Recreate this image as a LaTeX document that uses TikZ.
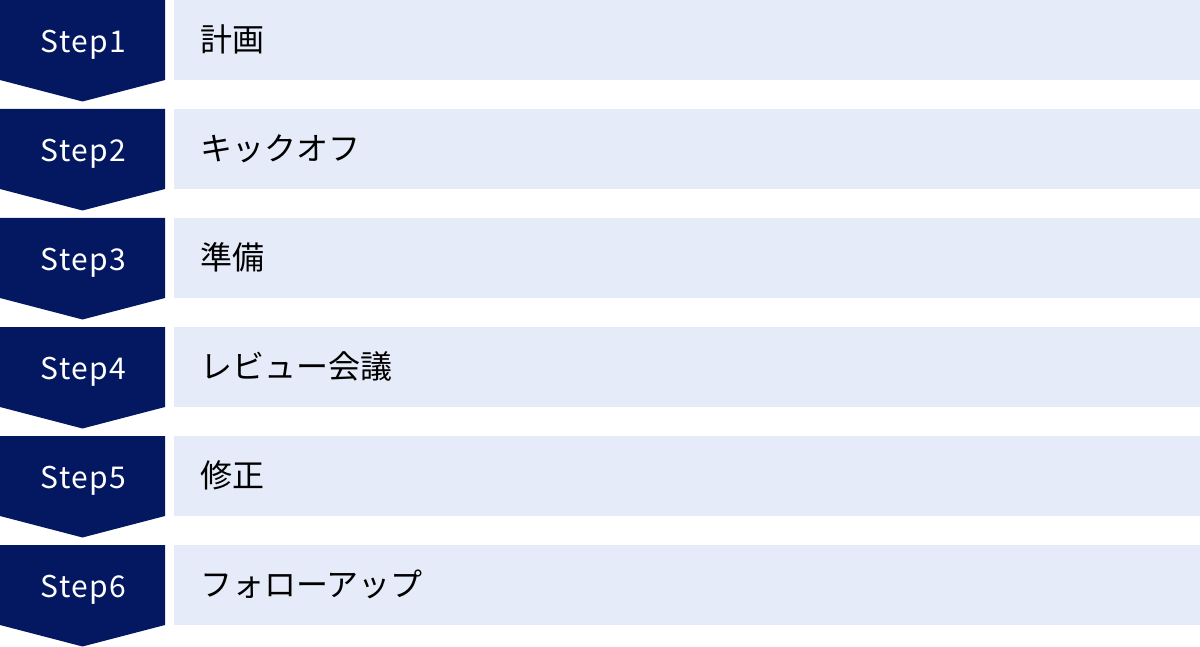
\documentclass[tikz,border=0pt]{standalone}
\usepackage{fontspec}
\setmainfont{Noto Sans CJK JP}
\definecolor{navy}{HTML}{041861}
\definecolor{lightbg}{HTML}{E5EBF8}
\tikzset{
  chevron/.style={fill=navy, draw=none},
  bar/.style={fill=lightbg, draw=none},
  steplabel/.style={text=white, font=\fontsize{30}{30}\selectfont\addfontfeatures{LetterSpace=5}, anchor=base, inner sep=0},
  barlabel/.style={text=black, font=\fontsize{32}{32}\selectfont, anchor=base west, inner sep=0},
}
\begin{document}
\begin{tikzpicture}[x=1pt,y=-1pt]
\useasboundingbox (0,0) rectangle (1200,647);
\foreach \i/\t in {1/計画,2/キックオフ,3/準備,4/レビュー会議,5/修正,6/フォローアップ}{
  \pgfmathsetmacro{\ytop}{(\i-1)*109}
  \fill[chevron] (0,\ytop) -- (165,\ytop) -- (165,\ytop+80) -- (82.5,\ytop+101.5) -- (0,\ytop+80) -- cycle;
  \fill[bar] (174,\ytop) rectangle (1200,\ytop+80);
  \node[steplabel] (s\i) at (83.5,\ytop+52.5) {Step\i};
  \node[barlabel] (b\i) at (200,\ytop+51.5) {\t};
}
\end{tikzpicture}
\end{document}
